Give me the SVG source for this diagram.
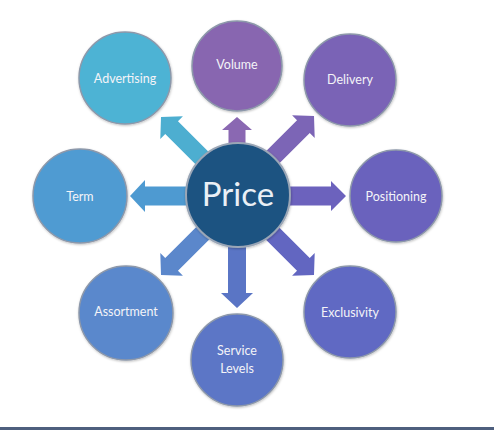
<svg xmlns="http://www.w3.org/2000/svg" width="494" height="430" viewBox="0 0 494 430">
<style>
.node{stroke:#8d98aa;stroke-width:1.5}
.lbl{font-family:Lato,"Noto Sans",sans-serif;font-size:12.5px;fill:#f4f4f8;text-anchor:middle}
.price{font-family:Lato,"Noto Sans",sans-serif;font-size:33px;fill:#eaf0f6;text-anchor:middle}
</style>
<defs>
<filter id="sh" x="-20%" y="-20%" width="140%" height="140%">
<feDropShadow dx="0.5" dy="1" stdDeviation="1" flood-color="#000" flood-opacity="0.25"/>
</filter>
</defs>
<rect width="494" height="430" fill="#ffffff"/>
<g id="connectors">
<path transform="translate(161,117) rotate(-135)" fill="#4daed0" d="M0,0 L-15,-16 L-15,-9 L-72,-9 L-72,9 L-15,9 L-15,16 Z"/>
<path transform="translate(237,117) rotate(-90)" fill="#8a68b2" d="M0,0 L-13,-15 L-13,-8.5 L-50,-8.5 L-50,8.5 L-13,8.5 L-13,15 Z"/>
<path transform="translate(314,116) rotate(-45)" fill="#7c65b6" d="M0,0 L-15,-16 L-15,-9 L-72,-9 L-72,9 L-15,9 L-15,16 Z"/>
<path transform="translate(346,196)" fill="#6c62bd" d="M0,0 L-15,-15 L-15,-9.5 L-70,-9.5 L-70,9.5 L-15,9.5 L-15,15 Z"/>
<path transform="translate(314,275) rotate(45)" fill="#6266c1" d="M0,0 L-15,-16 L-15,-9 L-72,-9 L-72,9 L-15,9 L-15,16 Z"/>
<path transform="translate(237,308) rotate(90)" fill="#5a75c5" d="M0,0 L-15,-16 L-15,-9 L-75,-9 L-75,9 L-15,9 L-15,16 Z"/>
<path transform="translate(161,275) rotate(135)" fill="#5b87cb" d="M0,0 L-15,-16 L-15,-9 L-72,-9 L-72,9 L-15,9 L-15,16 Z"/>
<path transform="translate(130,196) rotate(180)" fill="#4e9ad1" d="M0,0 L-15,-16 L-15,-9.5 L-70,-9.5 L-70,9.5 L-15,9.5 L-15,16 Z"/>
</g>
<g id="advertising"><circle class="node" filter="url(#sh)" cx="125" cy="78" r="46" fill="#4db3d4"/><text class="lbl" x="125" y="83">Advertising</text></g>
<g id="volume"><circle class="node" filter="url(#sh)" cx="237" cy="66" r="45" fill="#8866b0"/><text class="lbl" x="237" y="69">Volume</text></g>
<g id="delivery"><circle class="node" filter="url(#sh)" cx="350" cy="80" r="46" fill="#7a64b6"/><text class="lbl" x="350" y="84">Delivery</text></g>
<g id="term"><circle class="node" filter="url(#sh)" cx="80" cy="196" r="47" fill="#4f9bd2"/><text class="lbl" x="80" y="201">Term</text></g>
<g id="positioning"><circle class="node" filter="url(#sh)" cx="396" cy="196" r="46" fill="#6b62bd"/><text class="lbl" x="396" y="201">Positioning</text></g>
<g id="assortment"><circle class="node" filter="url(#sh)" cx="126" cy="313" r="47" fill="#5a88cc"/><text class="lbl" x="126" y="316">Assortment</text></g>
<g id="exclusivity"><circle class="node" filter="url(#sh)" cx="350" cy="312" r="46" fill="#6069c3"/><text class="lbl" x="350" y="317">Exclusivity</text></g>
<g id="service-levels"><circle class="node" filter="url(#sh)" cx="237" cy="360" r="46" fill="#5b76c6"/><text class="lbl" x="237" y="355">Service</text><text class="lbl" x="237" y="373">Levels</text></g>
<g id="price"><circle filter="url(#sh)" cx="238" cy="195" r="52" fill="#1f5381" stroke="#9aa6b6" stroke-width="2"/><text class="price" x="238" y="206">Price</text></g>
<rect x="0" y="427" width="494" height="3" fill="#4e5f7e"/>
</svg>
